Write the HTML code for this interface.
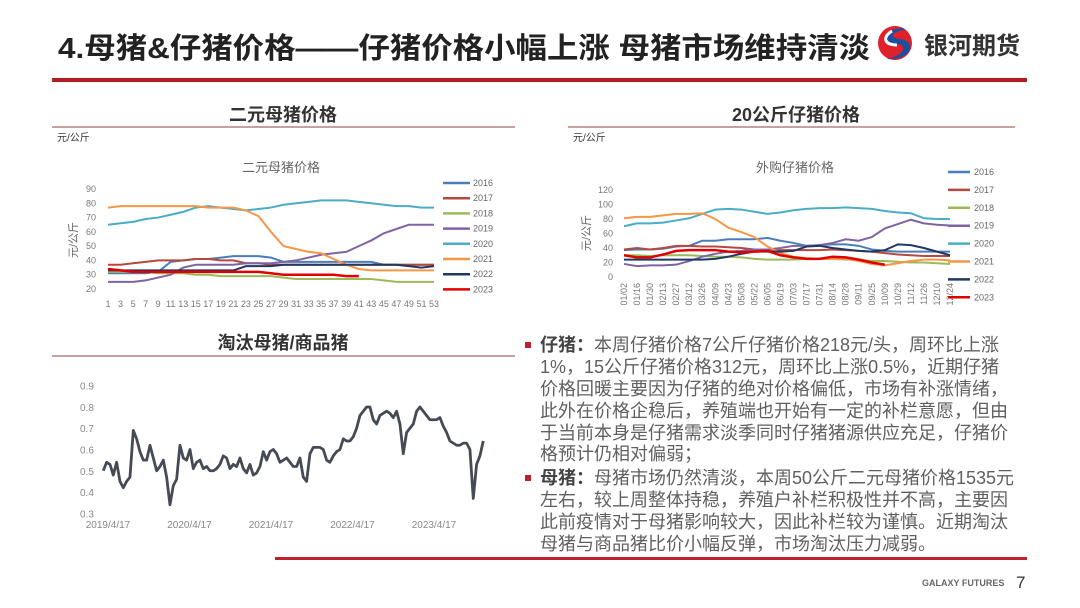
<!DOCTYPE html>
<html><head><meta charset="utf-8"><style>
body{margin:0;width:1080px;height:608px;overflow:hidden;background:#fff;font-family:"Liberation Sans","Noto Sans CJK SC",sans-serif}
svg{position:absolute;left:0;top:0}
.tl{position:absolute;white-space:nowrap;font-size:18px;color:#606060;line-height:22px}
.tl b{color:#444}
</style></head><body>
<svg id="s" width="1080" height="608" viewBox="0 0 1080 608">
<text x="58" y="58" font-size="29" font-weight="bold" fill="#222" textLength="812" lengthAdjust="spacingAndGlyphs">4.母猪&amp;仔猪价格——仔猪价格小幅上涨 母猪市场维持清淡</text>
<g>
<circle cx="895" cy="43" r="17" fill="#e0202a"/>
<path d="M903 28 C880 29 880 45 895 44 C908 43 906 56 886 59 C912 61 918 41 900 39 C888 38 892 31 905 30Z" fill="#1d4fa0"/>
<path d="M897 45 C884 45 882 37 892 31" stroke="#fff" stroke-width="3" fill="none"/>
</g>
<text x="924" y="54" font-size="24" font-weight="bold" fill="#333">银河期货</text>
<rect x="52" y="78" width="975" height="4" fill="#b01e24"/>
<text x="283" y="121" font-size="18" font-weight="bold" fill="#333" text-anchor="middle">二元母猪价格</text>
<rect x="52" y="126" width="463" height="2" fill="#c9a0a0"/>
<text x="796" y="121" font-size="18" font-weight="bold" fill="#333" text-anchor="middle">20公斤仔猪价格</text>
<rect x="568" y="126" width="447" height="2" fill="#c9a0a0"/>
<text x="283" y="349" font-size="18" font-weight="bold" fill="#333" text-anchor="middle">淘汰母猪/商品猪</text>
<rect x="52" y="355" width="463" height="2" fill="#c9a0a0"/>
<text x="57" y="141" font-size="10" fill="#333">元/公斤</text>
<text x="573" y="141" font-size="10" fill="#333">元/公斤</text>
<text x="281" y="172" font-size="13" fill="#666" text-anchor="middle">二元母猪价格</text>
<text x="795" y="172" font-size="13" fill="#666" text-anchor="middle">外购仔猪价格</text>
<text transform="translate(77,240) rotate(-90)" font-size="11" fill="#666" text-anchor="middle">元/公斤</text>
<text transform="translate(590,233) rotate(-90)" font-size="11" fill="#666" text-anchor="middle">元/公斤</text>
<g id="c1"></g><g id="c2"></g><g id="c3"></g>
<rect x="275" y="557" width="752" height="3" fill="#c0202a"/>
<text x="922" y="586" font-size="9" font-weight="bold" fill="#666">GALAXY FUTURES</text>
<text x="1016" y="588" font-size="17" fill="#333">7</text>
<rect x="525" y="342" width="6" height="6" fill="#c0202a"/>
<rect x="525" y="475" width="6" height="6" fill="#c0202a"/>
</svg>
<div>
<div class="tl" style="left:540px;top:334px"><b>仔猪：</b>本周仔猪价格7公斤仔猪价格218元/头，周环比上涨</div>
<div class="tl" style="left:540px;top:356px">1%，15公斤仔猪价格312元，周环比上涨0.5%，近期仔猪</div>
<div class="tl" style="left:540px;top:378px">价格回暖主要因为仔猪的绝对价格偏低，市场有补涨情绪，</div>
<div class="tl" style="left:540px;top:400px">此外在价格企稳后，养殖端也开始有一定的补栏意愿，但由</div>
<div class="tl" style="left:540px;top:422px">于当前本身是仔猪需求淡季同时仔猪猪源供应充足，仔猪价</div>
<div class="tl" style="left:540px;top:443px">格预计仍相对偏弱；</div>
<div class="tl" style="left:540px;top:467px"><b>母猪：</b>母猪市场仍然清淡，本周50公斤二元母猪价格1535元</div>
<div class="tl" style="left:540px;top:489px">左右，较上周整体持稳，养殖户补栏积极性并不高，主要因</div>
<div class="tl" style="left:540px;top:511px">此前疫情对于母猪影响较大，因此补栏较为谨慎。近期淘汰</div>
<div class="tl" style="left:540px;top:533px">母猪与商品猪比价小幅反弹，市场淘汰压力减弱。</div>
</div>
<script>
const years=["2016","2017","2018","2019","2020","2021","2022","2023"];
const colors=["#4a7ebb","#b5483f","#9bbb59","#8064a2","#4bacc6","#f79646","#1f3864","#e00000"];
const sowWeeks=[1,3,5,7,9,11,13,15,17,19,21,23,25,27,29,31,33,35,37,39,41,43,45,47,49,51,53];
const sow2016=[31,31,31,31,32,39,40,41,41,42,43,43,43,42,39,39,39,39,39,39,39,39,37,37,37,37,37];
const sow2017=[37,37,38,39,40,40,40,41,41,40,40,38,38,37,37,37,37,37,37,37,37,37,37,37,37,37,37];
const sow2018=[32,32,32,32,31,31,31,30,30,29,29,29,29,29,28,27,27,27,27,27,27,27,26,25,25,25,25];
const sow2019=[25,25,25,26,28,30,35,37,37,37,37,38,38,38,39,40,42,44,45,46,50,54,59,62,65,65,65];
const sow2020=[65,66,67,69,70,72,74,77,78,77,76,75,76,77,79,80,81,82,82,82,81,80,79,78,78,77,77];
const sow2021=[77,78,78,78,78,78,78,78,77,77,77,75,71,60,50,48,46,45,41,37,34,33,33,33,33,33,33];
const sow2022=[33,33,33,33,33,33,33,33,33,33,33,36,36,36,37,37,37,37,37,37,37,37,37,37,36,35,36];
const sow2023=[34,33,32,32,32,32,32,32,32,32,32,32,32,31,30,30,30,30,30,29,29];
const sowYTicks=[20,30,40,50,60,70,80,90];
const sowXTicks=[1,3,5,7,9,11,13,15,17,19,21,23,25,27,29,31,33,35,37,39,41,43,45,47,49,51,53];
const pigDates=["01/02","01/16","01/30","02/13","02/27","03/12","03/26","04/09","04/23","05/08","05/22","06/05","06/19","07/03","07/17","07/31","08/14","08/28","09/11","09/25","10/09","10/29","11/12","11/26","12/10","12/24"];
const pig2016=[37,38,38,39,42,43,50,50,52,52,52,54,50,47,43,44,45,45,43,38,36,35,35,35,35,35];
const pig2017=[38,40,38,40,43,43,42,42,41,40,38,37,37,37,37,37,38,37,36,35,33,31,30,29,29,29];
const pig2018=[30,30,29,30,30,30,29,28,28,27,25,24,24,24,25,25,25,24,24,22,22,21,20,20,19,18];
const pig2019=[18,15,16,16,17,22,28,32,35,36,38,38,40,43,43,44,47,52,50,55,67,73,79,74,72,71];
const pig2020=[70,74,74,75,78,81,87,93,94,93,90,87,89,92,94,95,95,96,95,94,91,89,88,81,80,80];
const pig2021=[81,83,83,85,87,87,88,80,68,62,55,42,33,28,26,25,25,25,22,18,16,19,22,24,24,23];
const pig2022=[24,24,24,24,24,24,24,25,28,32,35,35,35,36,42,43,40,38,36,35,37,45,44,40,35,30];
const pig2023=[30,27,27,31,36,37,37,37,35,34,35,36,30,27,25,25,28,27,24,20,17];
const pigYTicks=[0,20,40,60,80,100,120];
const ratioVals=[.50,.54,.53,.48,.54,.45,.42,.45,.47,.69,.65,.59,.55,.55,.62,.56,.50,.52,.55,.47,.34,.43,.46,.62,.56,.55,.60,.51,.54,.55,.51,.52,.50,.50,.51,.53,.57,.56,.51,.53,.52,.56,.51,.49,.53,.48,.49,.52,.59,.55,.59,.60,.58,.54,.55,.56,.54,.52,.52,.56,.47,.45,.58,.61,.61,.61,.60,.55,.54,.57,.59,.60,.65,.64,.64,.66,.70,.76,.78,.80,.80,.74,.72,.76,.77,.78,.77,.75,.78,.72,.58,.68,.70,.72,.78,.80,.78,.76,.74,.74,.74,.75,.71,.68,.64,.63,.62,.62,.63,.63,.60,.37,.53,.57,.64];
const ratioYTicks=["0.3","0.4","0.5","0.6","0.7","0.8","0.9"];
const ratioXTicks=["2019/4/17","2020/4/17","2021/4/17","2022/4/17","2023/4/17"];

const NS="http://www.w3.org/2000/svg";
function mk(p,tag,at){const e=document.createElementNS(NS,tag);for(const k in at)e.setAttribute(k,at[k]);p.appendChild(e);return e;}
function txt(p,x,y,s,at){const e=mk(p,"text",Object.assign({x:x,y:y,"font-size":9,fill:"#777"},at||{}));e.textContent=s;return e;}

const c1=document.getElementById("c1");
const x1=w=>108+(w-1)*(434-108)/52, y1=v=>289-(v-20)*(100/70);
sowYTicks.forEach(t=>{const e=txt(c1,96,y1(t)+3,t,{"text-anchor":"end"});

});
sowXTicks.forEach(t=>{const e=txt(c1,x1(t),307,t,{"text-anchor":"middle"});

});
const sowSeries=[sow2016,sow2017,sow2018,sow2019,sow2020,sow2021,sow2022,sow2023];
sowSeries.forEach((d,i)=>{const pts=d.map((v,j)=>x1(sowWeeks[j])+","+y1(v)).join(" ");
const l=mk(c1,"polyline",{points:pts,fill:"none",stroke:colors[i],"stroke-width":i==7?2.5:2});


const ly=183+i*15.2;
const lg=mk(c1,"g",{});


mk(lg,"line",{x1:443,x2:470,y1:ly,y2:ly,stroke:colors[i],"stroke-width":2.5});
txt(lg,473,ly+3,years[i],{"font-size":9,fill:"#666"});});

const c2=document.getElementById("c2");
const x2=i=>624+i*(950-624)/25, y2=v=>277-v*(87/120);
pigYTicks.forEach(t=>{const e=txt(c2,613,y2(t)+3,t,{"text-anchor":"end"});

});
pigDates.forEach((t,i)=>{const e=txt(c2,0,0,t,{"text-anchor":"end",transform:"translate("+(x2(i)+3)+",283) rotate(-90)"});

});
const pigSeries=[pig2016,pig2017,pig2018,pig2019,pig2020,pig2021,pig2022,pig2023];
pigSeries.forEach((d,i)=>{const pts=d.map((v,j)=>x2(j)+","+y2(v)).join(" ");
const l=mk(c2,"polyline",{points:pts,fill:"none",stroke:colors[i],"stroke-width":i==7?2.5:2});


const ly=172+i*17.9;
const lg=mk(c2,"g",{});


mk(lg,"line",{x1:948,x2:970,y1:ly,y2:ly,stroke:colors[i],"stroke-width":2.5});
txt(lg,974,ly+3,years[i],{"font-size":9,fill:"#666"});});

const c3=document.getElementById("c3");
const x3=i=>103.3+i*3.333, y3=v=>513.3-(v-0.3)*(127.6/0.6);
ratioYTicks.forEach(t=>{const e=txt(c3,80,y3(+t)+4,t,{"font-size":10,fill:"#888"});

});
ratioXTicks.forEach((t,i)=>{const e=txt(c3,108+i*81.5,528,t,{"text-anchor":"middle","font-size":10,fill:"#888"});

});
const rl=mk(c3,"polyline",{points:ratioVals.map((v,i)=>x3(i)+","+y3(v)).join(" "),fill:"none",stroke:"#454a55","stroke-width":2.8,"stroke-linejoin":"round"});


</script>
</body></html>
